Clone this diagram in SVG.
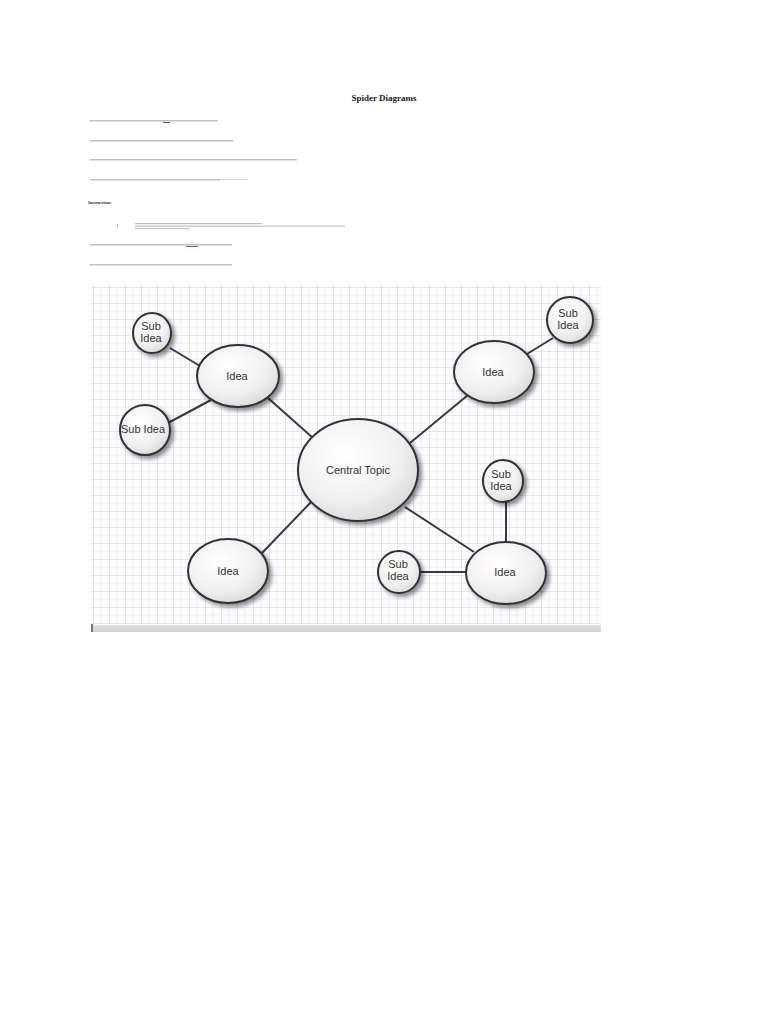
<svg xmlns="http://www.w3.org/2000/svg" width="768" height="1024" viewBox="0 0 768 1024">
<style>
.node{fill:url(#ng);stroke:#333;stroke-width:2;filter:url(#sh)}
.lbl{font-family:"Liberation Sans",Arial,sans-serif;font-size:11px;fill:#333;text-anchor:middle}
.conn line{stroke:#3a3a3a;stroke-width:2}
.tl{fill:#c0c0c0}
.lk{fill:#4a5fd0}
</style>
<defs>
<radialGradient id="ng" cx="0.4" cy="0.35" r="0.75">
<stop offset="0" stop-color="#ffffff"/>
<stop offset="0.6" stop-color="#f0f0f0"/>
<stop offset="1" stop-color="#d4d4d4"/>
</radialGradient>
<filter id="sh" x="-20%" y="-20%" width="150%" height="150%">
<feGaussianBlur in="SourceAlpha" stdDeviation="2"/>
<feOffset dx="3" dy="3" result="b"/>
<feComponentTransfer><feFuncA type="linear" slope="0.45"/></feComponentTransfer>
<feMerge><feMergeNode/><feMergeNode in="SourceGraphic"/></feMerge>
</filter>
<pattern id="grid" x="93" y="287" width="16" height="16" patternUnits="userSpaceOnUse">
<path d="M8 0V16M0 8H16" stroke="#ebebf5" stroke-width="1" fill="none"/>
<path d="M0 0V16M0 0H16" stroke="#cbcbe6" stroke-width="1" fill="none"/>
</pattern>
<linearGradient id="bar" x1="0" y1="0" x2="0" y2="1">
<stop offset="0" stop-color="#e2e2e2"/>
<stop offset="1" stop-color="#cfcfcf"/>
</linearGradient>
</defs>
<rect width="768" height="1024" fill="#fff"/>
<text x="384" y="101" font-family="Liberation Serif,'Times New Roman',serif" font-size="9" font-weight="bold" fill="#222" text-anchor="middle">Spider Diagrams</text>
<g id="bodytext">
<rect class="tl" x="90" y="120" width="128" height="1.5"/>
<rect class="lk" x="163" y="122" width="7" height="1"/>
<rect class="tl" x="90" y="140" width="143" height="1.5"/>
<rect class="tl" x="90" y="159" width="207" height="1.5"/>
<rect class="tl" x="90" y="179" width="130" height="1.5"/>
<rect fill="#dadada" x="220" y="179" width="28" height="1"/>
<text x="88" y="204" font-family="Liberation Serif,'Times New Roman',serif" font-size="4.5" font-weight="bold" fill="#333">Instructions</text>
<rect class="tl" x="117" y="224" width="1" height="3"/>
<rect class="tl" x="135" y="223" width="127" height="1.2"/>
<rect class="tl" x="135" y="225.5" width="210" height="1.2"/>
<rect class="tl" x="135" y="228" width="55" height="1.2"/>
<rect class="tl" x="90" y="244" width="142" height="1.5"/>
<rect class="lk" x="186" y="246" width="12" height="1"/>
<rect class="tl" x="90" y="264" width="142" height="1.5"/>
</g>
<g id="canvas">
<rect x="91" y="285" width="510" height="340" fill="#fdfdff"/>
<rect x="91" y="285" width="510" height="340" fill="url(#grid)"/>
<rect x="91" y="625" width="510" height="7" fill="url(#bar)"/>
<rect x="91" y="624" width="2" height="8" fill="#777"/>
</g>
<g id="connectors" class="conn">
<line x1="170" y1="348" x2="200" y2="366"/>
<line x1="168" y1="423" x2="211" y2="400"/>
<line x1="268" y1="398" x2="313" y2="438"/>
<line x1="410" y1="443" x2="468" y2="395"/>
<line x1="527" y1="354" x2="553" y2="338"/>
<line x1="313" y1="500" x2="262" y2="553"/>
<line x1="405" y1="507" x2="474" y2="552"/>
<line x1="506" y1="502" x2="506" y2="542"/>
<line x1="420" y1="572" x2="466" y2="572"/>
</g>
<g id="central"><ellipse class="node" cx="358" cy="470" rx="60" ry="51"/><text class="lbl" x="358" y="474" font-size="12">Central Topic</text></g>
<g id="idea-tl"><ellipse class="node" cx="238" cy="376" rx="41" ry="31"/><text class="lbl" x="237" y="380">Idea</text></g>
<g id="idea-tr"><ellipse class="node" cx="494" cy="372" rx="40" ry="31"/><text class="lbl" x="493" y="376">Idea</text></g>
<g id="idea-bl"><ellipse class="node" cx="228" cy="571" rx="40" ry="32"/><text class="lbl" x="228" y="575">Idea</text></g>
<g id="idea-br"><ellipse class="node" cx="506" cy="573" rx="40" ry="31"/><text class="lbl" x="505" y="576">Idea</text></g>
<g id="sub-tl"><ellipse class="node" cx="152" cy="333" rx="19" ry="20"/><text class="lbl" x="151" y="330">Sub</text><text class="lbl" x="151" y="342">Idea</text></g>
<g id="sub-l"><ellipse class="node" cx="145" cy="430" rx="25" ry="25"/><text class="lbl" x="143" y="433" font-size="10.5">Sub Idea</text></g>
<g id="sub-tr"><ellipse class="node" cx="570" cy="320" rx="23" ry="23"/><text class="lbl" x="568" y="317">Sub</text><text class="lbl" x="568" y="329">Idea</text></g>
<g id="sub-r"><ellipse class="node" cx="503" cy="481" rx="20" ry="21"/><text class="lbl" x="501" y="478">Sub</text><text class="lbl" x="501" y="490">Idea</text></g>
<g id="sub-b"><ellipse class="node" cx="399" cy="572" rx="21" ry="21"/><text class="lbl" x="398" y="568">Sub</text><text class="lbl" x="398" y="580">Idea</text></g>
</svg>
